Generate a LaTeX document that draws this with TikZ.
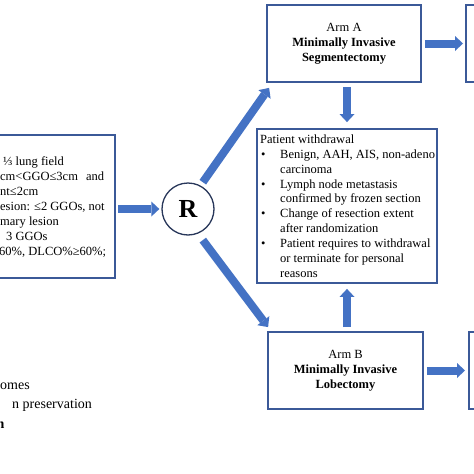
\documentclass[tikz,border=0pt]{standalone}
\usepackage{fontspec}
\setmainfont{Liberation Serif}
\usetikzlibrary{arrows.meta,calc}
\definecolor{boxblue}{RGB}{59,89,152}
\definecolor{arrowblue}{RGB}{68,114,196}
\definecolor{circblue}{RGB}{40,55,90}
\newcommand\wbul{\makebox[20pt][l]{\hspace*{1pt}•}}
\newcommand\wind{\hspace*{20pt}}
\begin{document}
\begin{tikzpicture}[x=1pt,y=-1pt,
  box/.style={draw=boxblue, line width=1.8pt, fill=white, inner sep=0pt},
  blockarrow/.style={draw=arrowblue, line width=8pt,
    -{Triangle[length=8pt,width=15pt,line width=0pt]}},
  txt/.style={font=\fontsize{12.5}{14.9}\selectfont},
  bigtxt/.style={font=\fontsize{14}{19.5}\selectfont},
  rcirc/.style={circle, draw=circblue, line width=1.3pt, fill=white,
    minimum size=52pt, inner sep=0pt, font=\fontsize{26}{26}\selectfont\bfseries}
]
\useasboundingbox (0,0) rectangle (474,474);
\clip (0,0) rectangle (474,474);
\fill[white] (0,0) rectangle (474,474);

% left criteria box
\node[box, minimum width=180pt, minimum height=143pt, anchor=east] (leftbox) at (116,206.5) {};
\node[txt, align=left, anchor=west, inner sep=0pt] (lefttext) at (-1,207)
  {\hspace*{4pt}⅓ lung field\\
   \hspace*{1pt}\makebox[104pt][l]{cm<GGO≤3cm\hfill and}\\
   \hspace*{1pt}nt≤2cm\\
   \hspace*{1pt}esion: ≤2 GGOs, not\\
   \hspace*{1pt}mary lesion\\
   \hspace*{7pt}3 GGOs\\
   60\%, DLCO\%≥60\%;};

% randomization
\node[rcirc] (R) at (188,209) {R};

% arms
\node[box, txt, minimum width=154pt, minimum height=77pt, align=center] (armA) at (344,43.5)
  {Arm A\\ \textbf{Minimally Invasive}\\ \textbf{Segmentectomy}};
\node[box, txt, minimum width=155pt, minimum height=77pt, align=center] (armB) at (345.5,370.5)
  {Arm B\\ \textbf{Minimally Invasive}\\ \textbf{Lobectomy}};
\node[box, minimum width=40pt, minimum height=77pt, anchor=west] (rightA) at (465,43.5) {};
\node[box, minimum width=40pt, minimum height=77pt, anchor=west] (rightB) at (468,370.5) {};

% withdrawal box
\node[box, minimum width=180pt, minimum height=154pt] (wbox) at (347,206) {};
\node[txt, align=left, anchor=north west, inner sep=0pt] (wtext) at (260,134.5)
  {Patient withdrawal\\
   \wbul Benign, AAH, AIS, non-adeno\\
   \wind carcinoma\\
   \wbul Lymph node metastasis\\
   \wind confirmed by frozen section\\
   \wbul Change of resection extent\\
   \wind after randomization\\
   \wbul Patient requires to withdrawal\\
   \wind or terminate for personal\\
   \wind reasons};

% bottom-left partial text
\node[bigtxt, anchor=base west, inner sep=0pt] (bl1) at (0,389) {omes};
\node[bigtxt, anchor=base west, inner sep=0pt] (bl2) at (12,408.5) {n preservation};
\node[bigtxt, anchor=base west, inner sep=0pt] (bl3) at (-3.5,428) {\textbf{n}};

% arrows
\draw[blockarrow, shorten <=2pt, shorten >=2pt] (leftbox.east |- R.west) -- (R.west);
\draw[blockarrow, shorten <=3pt, shorten >=2pt] (armA.east) -- (rightA.west);
\draw[blockarrow, shorten <=3pt, shorten >=3pt] (armB.east) -- (rightB.west);
\draw[blockarrow, shorten <=4pt, shorten >=6pt] (wbox.north |- armA.south) -- (wbox.north);
\draw[blockarrow, shorten <=4pt, shorten >=5pt] (wbox.south |- armB.north) -- (wbox.south);
\draw[blockarrow, shorten <=4pt] (R.62) -- ($(armA.south west)+(3,5)$);
\draw[blockarrow, shorten <=8pt] (R.-68) -- ($(armB.north west)+(1,-4)$);
\end{tikzpicture}
\end{document}
